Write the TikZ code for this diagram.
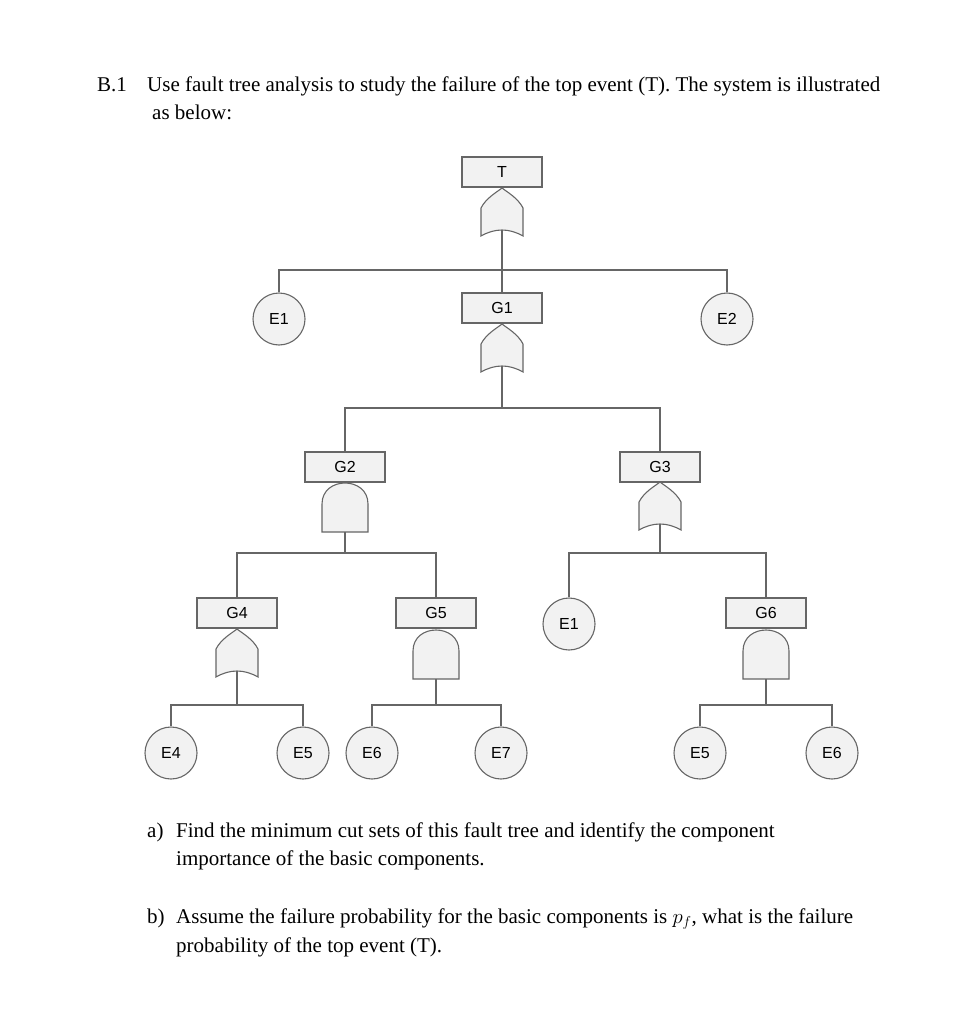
\documentclass[tikz,border=0pt]{standalone}
\usepackage{fontspec}
\setmainfont{Liberation Serif}
\newfontfamily\sansf{Liberation Sans}
\begin{document}
\begin{tikzpicture}[x=1pt,y=-1pt,
  ln/.style={draw=black!60,line width=1.1pt},
  evbox/.style={ln,fill=black!5,minimum width=80pt,minimum height=30pt,inner sep=0pt,font=\sansf\fontsize{16}{16}\selectfont},
  evc/.style={ln,circle,fill=black!5,minimum size=52pt,inner sep=0pt,font=\sansf\fontsize{16}{16}\selectfont},
  txt/.style={anchor=base west,inner sep=0pt,font=\fontsize{21}{24}\selectfont},
  orgate/.pic={\draw[ln,fill=black!5] (-21,48) -- (-21,20) .. controls (-16,10) and (-5,4) .. (0,0) .. controls (5,4) and (16,10) .. (21,20) -- (21,48) .. controls (7,40) and (-7,40) .. (-21,48) -- cycle; \coordinate (-b) at (0,42);},
  andgate/.pic={\draw[ln,fill=black!5] (-23,50) -- (-23,22) .. controls (-23,-6) and (23,-6) .. (23,22) -- (23,50) -- cycle; \coordinate (-b) at (0,50);}]
\useasboundingbox (0,0) rectangle (964,1024);
\node[txt] (q1) at (97,92) {B.1};
\node[txt] (q2) at (147,92) {Use fault tree analysis to study the failure of the top event (T). The system is illustrated};
\node[txt] (q3) at (152,120) {as below:};
\node[txt] (qa) at (147,837) {a)};
\node[txt] (qa1) at (176,837) {Find the minimum cut sets of this fault tree and identify the component};
\node[txt] (qa2) at (176,865) {importance of the basic components.};
\node[txt] (qb) at (147,923) {b)};
\node[txt] (qb1) at (176,923) {Assume the failure probability for the basic components is $p_f$, what is the failure};
\node[txt] (qb2) at (176,952) {probability of the top event (T).};
% level T
\node[evbox] (T) at (502,172) {T};
\pic (Tg) at (502,188) {orgate};
\coordinate (j0) at (502,270);
\node[evc] (E1a) at (279,319) {E1};
\node[evc] (E2) at (727,319) {E2};
\node[evbox] (G1) at (502,308) {G1};
\pic (G1g) at (502,324) {orgate};
\draw[ln] (Tg-b) -- (j0) -- (G1.north); \draw[ln] (j0) -| (E1a.north); \draw[ln] (j0) -| (E2.north);
% G1
\coordinate (j1) at (502,408);
\node[evbox] (G2) at (345,467) {G2};
\node[evbox] (G3) at (660,467) {G3};
\draw[ln] (G1g-b) -- (j1); \draw[ln] (j1) -| (G2.north); \draw[ln] (j1) -| (G3.north);
\pic (G2g) at (345,482) {andgate};
\pic (G3g) at (660,482) {orgate};
% G2
\coordinate (j2) at (345,553);
\node[evbox] (G4) at (237,613) {G4};
\node[evbox] (G5) at (436,613) {G5};
\draw[ln] (G2g-b) -- (j2); \draw[ln] (j2) -| (G4.north); \draw[ln] (j2) -| (G5.north);
% G3
\coordinate (j3) at (660,553);
\node[evc] (E1b) at (569,624) {E1};
\node[evbox] (G6) at (766,613) {G6};
\draw[ln] (G3g-b) -- (j3); \draw[ln] (j3) -| (E1b.north); \draw[ln] (j3) -| (G6.north);
\pic (G4g) at (237,629) {orgate};
\pic (G5g) at (436,629) {andgate};
\pic (G6g) at (766,629) {andgate};
% leaves
\node[evc] (E4) at (171,753) {E4};
\node[evc] (E5a) at (303,753) {E5};
\node[evc] (E6a) at (372,753) {E6};
\node[evc] (E7) at (501,753) {E7};
\node[evc] (E5b) at (700,753) {E5};
\node[evc] (E6b) at (832,753) {E6};
\coordinate (j4) at (237,705);
\coordinate (j5) at (436,705);
\coordinate (j6) at (766,705);
\draw[ln] (G4g-b) -- (j4); \draw[ln] (j4) -| (E4.north); \draw[ln] (j4) -| (E5a.north);
\draw[ln] (G5g-b) -- (j5); \draw[ln] (j5) -| (E6a.north); \draw[ln] (j5) -| (E7.north);
\draw[ln] (G6g-b) -- (j6); \draw[ln] (j6) -| (E5b.north); \draw[ln] (j6) -| (E6b.north);
\end{tikzpicture}
\end{document}
